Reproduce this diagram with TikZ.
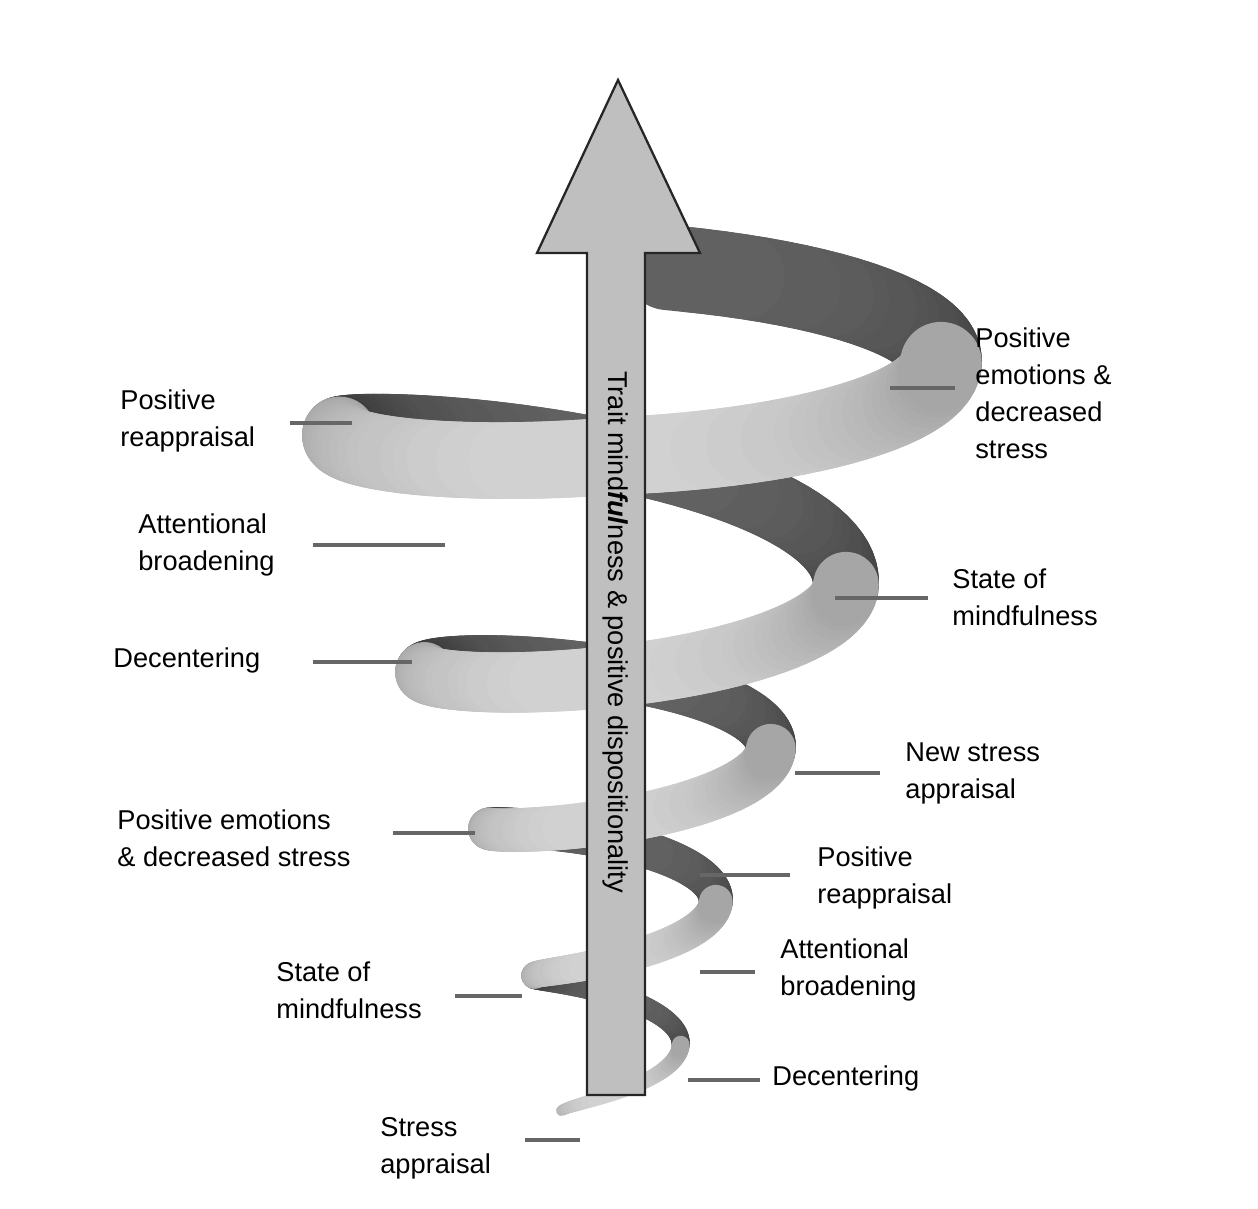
\documentclass[tikz,border=0pt]{standalone}
\usepackage{fontspec}
\setmainfont{Liberation Sans}
\begin{document}
\begin{tikzpicture}[x=0.02cm,y=-0.02cm,
  lbl/.style={align=left,anchor=west,font=\fontsize{15.5}{21}\selectfont,inner sep=0pt},
  tick/.style={draw=black!60,line width=2.2pt}]
\useasboundingbox (0,0) rectangle (1258,1208);
\def\R#1{(60+20*(#1)+10*(#1)*(#1))}
\def\Y#1{(1080-135*(#1)-5*(#1)*(#1)-70*max(0,min(1,((#1)-3.25)*2))+80*max(0,(#1)-4))}
\def\P{0.22}
% back of spiral
\foreach \i in {-20,...,446}{
  \pgfmathsetmacro\ta{\i/100}\pgfmathsetmacro\tb{(\i+1.6)/100}
  \pgfmathsetmacro\c{cos(360*(\ta+0.008))}
  \ifdim \c pt<0pt
   \pgfmathsetmacro\xa{615+\R{\ta}*sin(360*\ta)}
   \pgfmathsetmacro\ya{\Y{\ta}+\P*\R{\ta}*cos(360*\ta)}
   \pgfmathsetmacro\xb{615+\R{\tb}*sin(360*\tb)}
   \pgfmathsetmacro\yb{\Y{\tb}+\P*\R{\tb}*cos(360*\tb)}
   \pgfmathsetmacro\w{max(8,14+16*\ta)*0.567}
   \pgfmathsetmacro\k{int(62+15*(1+\c))}
   \draw[line width=\w pt,color=black!\k,line cap=round] (\xa,\ya)--(\xb,\yb);
  \fi}
% front of spiral
\foreach \i in {-20,...,446}{
  \pgfmathsetmacro\ta{\i/100}\pgfmathsetmacro\tb{(\i+1.6)/100}
  \pgfmathsetmacro\c{cos(360*(\ta+0.008))}
  \ifdim \c pt<0pt\else
   \pgfmathsetmacro\xa{615+\R{\ta}*sin(360*\ta)}
   \pgfmathsetmacro\ya{\Y{\ta}+\P*\R{\ta}*cos(360*\ta)}
   \pgfmathsetmacro\xb{615+\R{\tb}*sin(360*\tb)}
   \pgfmathsetmacro\yb{\Y{\tb}+\P*\R{\tb}*cos(360*\tb)}
   \pgfmathsetmacro\w{max(8,14+16*\ta)*0.567}
   \pgfmathsetmacro\k{int(18+18*(1-\c))}
   \draw[line width=\w pt,color=black!\k,line cap=round] (\xa,\ya)--(\xb,\yb);
  \fi}
% arrow
\draw[fill=black!25,draw=black!85,line width=1.3pt,line join=miter]
  (587,1095)--(587,253)--(537,253)--(618,80)--(700,253)--(645,253)--(645,1095)--cycle;
\node[rotate=-90,font=\fontsize{15.5}{21}\selectfont,inner sep=0pt] (arrowtext) at (616,632)
  {Trait mind\textbf{\textit{ful}}ness \& positive dispositionality};
% left labels
\node[lbl] (l1) at (120,421) {Positive\\reappraisal};
\node[lbl] (l2) at (138,545) {Attentional\\broadening};
\node[lbl] (l3) at (113,660) {Decentering};
\node[lbl] (l4) at (117,838) {Positive emotions\\\& decreased stress};
\node[lbl] (l5) at (276,990) {State of\\mindfulness};
\node[lbl] (l6) at (380,1148) {Stress\\appraisal};
\coordinate (a1) at (290,423); \coordinate (b1) at (352,423);
\coordinate (a2) at (313,545); \coordinate (b2) at (445,545);
\coordinate (a3) at (313,662); \coordinate (b3) at (412,662);
\coordinate (a4) at (393,833); \coordinate (b4) at (475,833);
\coordinate (a5) at (455,996); \coordinate (b5) at (522,996);
\coordinate (a6) at (525,1140); \coordinate (b6) at (580,1140);
% right labels
\node[lbl] (r1) at (975,393) {Positive\\emotions \&\\decreased\\stress};
\node[lbl] (r2) at (952,597) {State of\\mindfulness};
\node[lbl] (r3) at (905,773) {New stress\\appraisal};
\node[lbl] (r4) at (817,878) {Positive\\reappraisal};
\node[lbl] (r5) at (780,970) {Attentional\\broadening};
\node[lbl] (r6) at (772,1078) {Decentering};
\coordinate (c1) at (890,388); \coordinate (d1) at (955,388);
\coordinate (c2) at (835,598); \coordinate (d2) at (928,598);
\coordinate (c3) at (795,773); \coordinate (d3) at (880,773);
\coordinate (c4) at (700,875); \coordinate (d4) at (790,875);
\coordinate (c5) at (700,972); \coordinate (d5) at (755,972);
\coordinate (c6) at (688,1080); \coordinate (d6) at (760,1080);
\foreach \n in {1,...,6}{\draw[tick] (a\n)--(b\n); \draw[tick] (c\n)--(d\n);}
\end{tikzpicture}
\end{document}
